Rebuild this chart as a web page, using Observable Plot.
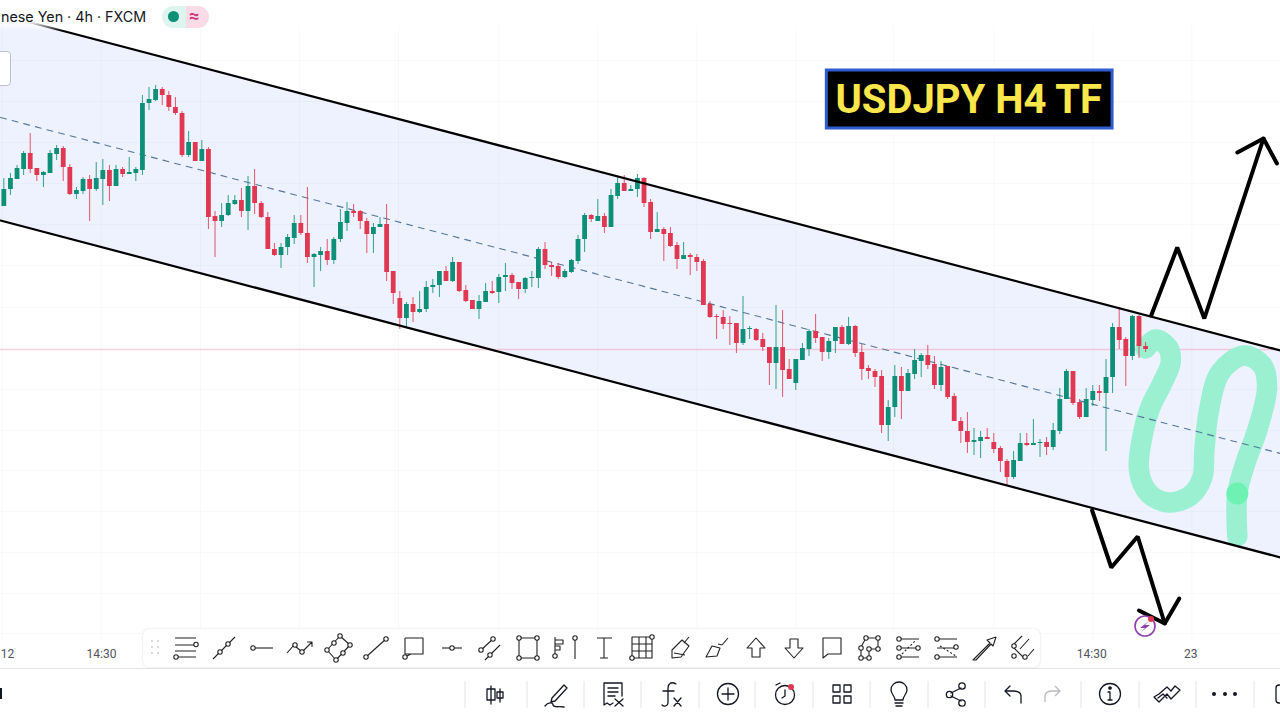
<!DOCTYPE html>
<html>
<head>
<meta charset="utf-8">
<script src="https://cdn.jsdelivr.net/npm/d3@7"></script>
<script src="https://cdn.jsdelivr.net/npm/@observablehq/plot@0.6"></script>
<style>
html,body{margin:0;padding:0;background:#fff;overflow:hidden}
#page{position:relative;width:1280px;height:720px;overflow:hidden;font-family:Roboto,"Liberation Sans",sans-serif}
#chart svg{display:block}
.ov{position:absolute}
</style>
</head>
<body>
<div id="page"><div id="chart"></div></div>
<script>
// USD/JPY 4h candles, one value per bar (prices)
const opens = [150.94,151.11,151.21,151.31,151.47,151.32,151.25,151.27,151.46,151.52,
151.33,151.06,151.09,151.21,151.11,151.21,151.30,151.14,151.31,151.26,
151.27,151.30,151.97,152.00,152.11,152.05,151.93,151.87,151.45,151.58,
151.39,151.51,150.84,150.79,150.85,150.96,151.00,150.89,151.14,150.97,
150.83,150.51,150.45,150.53,150.62,150.77,150.67,150.43,150.45,150.49,
150.40,150.61,150.77,150.89,150.89,150.79,150.66,150.73,150.76,150.29,
150.02,149.82,149.96,149.88,149.91,150.13,150.15,150.29,150.19,150.38,
150.10,150.00,149.91,149.98,150.09,150.08,150.23,150.25,150.18,150.11,
150.22,150.22,150.51,150.35,150.34,150.23,150.28,150.39,150.61,150.85,
150.79,150.84,150.73,151.04,151.17,151.09,151.11,151.22,150.98,150.68,
150.71,150.67,150.55,150.41,150.45,150.43,150.39,149.96,149.84,149.83,
149.77,149.77,149.57,149.71,149.71,149.61,149.53,149.37,149.53,149.31,
149.17,149.40,149.51,149.69,149.63,149.48,149.59,149.73,149.56,149.74,
149.48,149.32,149.29,149.24,148.75,148.93,149.24,149.09,149.26,149.39,
149.45,149.36,149.15,149.34,149.04,148.79,148.69,148.58,148.59,148.63,
148.58,148.52,148.39,148.23,148.39,148.57,148.55,148.57,148.58,148.53,
148.69,149.01,149.29,148.98,148.83,149.00,149.09,149.07,149.23,149.73,
149.61,149.44,149.84,149.54];
const closes = [151.11,151.22,151.32,151.47,151.31,151.25,151.28,151.47,151.52,151.33,
151.06,151.10,151.21,151.11,151.22,151.30,151.14,151.31,151.26,151.28,
151.31,151.97,152.01,152.11,152.05,151.93,151.87,151.45,151.58,151.39,
151.51,150.83,150.79,150.85,150.97,151.00,150.89,151.14,150.97,150.83,
150.51,150.45,150.53,150.63,150.77,150.67,150.43,150.46,150.49,150.40,
150.61,150.78,150.89,150.87,150.79,150.66,150.73,150.76,150.28,150.07,
149.82,149.96,149.88,149.91,150.13,150.15,150.29,150.19,150.38,150.09,
149.99,149.91,149.99,150.09,150.07,150.23,150.25,150.17,150.11,150.22,
150.23,150.51,150.35,150.33,150.23,150.29,150.40,150.61,150.85,150.81,
150.84,150.73,151.05,151.17,151.09,151.11,151.22,150.97,150.68,150.71,
150.66,150.54,150.41,150.45,150.43,150.38,149.95,149.83,149.83,149.76,
149.76,149.57,149.71,149.72,149.60,149.53,149.37,149.53,149.30,149.21,
149.41,149.52,149.69,149.62,149.48,149.59,149.73,149.56,149.74,149.47,
149.31,149.29,149.23,148.75,148.93,149.24,149.09,149.27,149.40,149.45,
149.35,149.15,149.33,149.03,148.79,148.69,148.58,148.60,148.63,148.61,
148.51,148.39,148.23,148.40,148.57,148.55,148.57,148.58,148.53,148.70,
149.01,149.29,148.97,148.83,149.01,149.09,149.07,149.23,149.73,149.60,
149.44,149.84,149.54,149.51];
const highs = [151.22,151.27,151.35,151.49,151.67,151.32,151.29,151.50,151.55,151.54,
151.36,151.13,151.23,151.25,151.38,151.41,151.35,151.35,151.33,151.43,
151.33,152.05,152.13,152.15,152.13,152.09,152.03,151.89,151.69,151.58,
151.60,151.53,150.89,150.97,151.05,151.05,151.12,151.24,151.31,150.99,
150.88,150.57,150.57,150.66,150.85,150.85,151.13,150.47,150.53,150.61,
150.63,150.91,150.98,150.96,150.90,150.82,150.77,150.83,150.96,150.29,
150.09,149.98,150.03,150.09,150.19,150.21,150.29,150.34,150.43,150.38,
150.15,150.00,150.05,150.17,150.19,150.26,150.37,150.27,150.18,150.23,
150.29,150.53,150.58,150.38,150.37,150.31,150.41,150.65,150.87,150.86,
151.01,150.87,151.11,151.23,151.25,151.15,151.26,151.23,151.01,150.88,
150.73,150.73,150.58,150.58,150.47,150.46,150.41,149.99,149.86,149.90,
149.84,149.77,150.04,149.74,149.72,149.67,149.53,149.95,149.90,149.41,
149.41,149.57,149.71,149.86,149.63,149.62,149.73,149.75,149.83,149.75,
149.56,149.35,149.31,149.30,149.00,149.35,149.33,149.31,149.51,149.47,
149.55,149.44,149.39,149.34,149.07,148.83,148.88,148.72,148.69,148.72,
148.67,148.54,148.41,148.49,148.67,148.67,148.81,148.61,148.63,148.77,
149.12,149.31,149.29,149.01,149.12,149.15,149.15,149.41,149.77,149.91,
149.63,149.85,149.85,149.58];
const lows = [150.94,151.05,151.21,151.25,151.27,151.19,151.13,151.27,151.40,151.19,
151.05,151.01,151.06,150.79,151.09,150.95,150.99,151.14,151.23,151.26,
151.19,151.25,151.90,151.99,151.95,151.89,151.85,151.43,151.43,151.39,
151.39,150.71,150.43,150.73,150.84,150.95,150.83,150.70,150.86,150.82,
150.51,150.44,150.32,150.45,150.56,150.65,150.37,150.13,150.29,150.35,
150.36,150.58,150.69,150.83,150.71,150.47,150.47,150.73,150.19,149.96,
149.71,149.74,149.78,149.87,149.88,150.07,150.03,150.19,150.18,150.08,
149.98,149.91,149.81,149.98,150.06,149.97,150.09,150.11,150.01,150.07,
150.13,150.12,150.31,150.24,150.21,150.22,150.27,150.36,150.48,150.78,
150.79,150.67,150.73,151.01,151.09,151.09,151.03,150.93,150.61,150.68,
150.39,150.53,150.31,150.41,150.25,150.29,149.95,149.82,149.61,149.71,
149.55,149.47,149.55,149.61,149.59,149.49,149.15,149.11,149.03,149.21,
149.10,149.40,149.44,149.57,149.39,149.41,149.47,149.56,149.55,149.43,
149.20,149.21,149.13,148.67,148.59,148.83,148.81,149.09,149.21,149.23,
149.31,149.11,149.09,149.01,148.79,148.57,148.47,148.45,148.42,148.61,
148.47,148.28,148.14,148.21,148.39,148.54,148.55,148.43,148.45,148.50,
148.66,149.01,148.95,148.81,148.83,148.94,148.99,148.49,149.07,149.51,
149.14,149.40,149.42,149.48];

// Regression channel: bar numbers and prices at its two ends
const channelBars = [-0.505, 193.44];
const channelUpper = [152.86, 149.50];
const channelMiddle = [151.83, 148.47];
const channelLower = [150.80, 147.43];

// Grid and time axis
const gridPrices = [152.81,152.40,151.99,151.58,151.17,150.76,150.35,149.93,149.11,148.70,148.30,147.89,147.48,147.07,146.67];
const gridBars = [-0.25,14.78,29.8,44.8,59.8,75,90,105,120,134.8,150,165,180];
const tickBars = [0.55,14.8,164.85,179.85];
const tickLabels = ["12","14:30","14:30","23"];
const axisLabelPrice = 146.46;
const lastPrice = 149.51;

// Hand-drawn scenario arrows (bar, price)
const upBars = [173.85,177.8,181.9,190.86];
const upPrices = [149.85,150.53,149.82,151.62];
const upHeadBars = [186.9,190.86,192.9];
const upHeadPrices = [151.48,151.62,151.37];
const downBars = [164.9,167.8,171.8,175.9];
const downPrices = [147.90,147.33,147.64,146.77];
const downHeadBars = [172,175.9,178.1];
const downHeadPrices = [146.90,146.77,147.02];

// Hand-drawn mint squiggle (bar, price)
const squiggleBars = [173.0,174.5,176.4,176.8,175.5,173.7,172.7,172.0,173.5,176.5,179.8,181.6,181.9,182.6,184.3,187.9,190.7,191.4,189.9,188.1,186.9,186.9];
const squigglePrices = [149.52,149.61,149.53,149.38,149.17,148.93,148.70,148.30,148.07,147.98,148.05,148.23,148.50,148.90,149.28,149.45,149.35,149.13,148.70,148.37,148.07,147.64];
const dotBar = [186.9];
const dotPrice = [148.07];

// Title box
const boxBars = [124.7,168];
const boxPrices = [152.30,151.72];
const boxLabel = "USDJPY H4 TF";

const GREEN = "#0e8f78", RED = "#e03850";
const bars = opens.map((o,i)=>({i,open:o,close:closes[i],high:highs[i],low:lows[i]}));
const candleColor = d => d.close >= d.open ? GREEN : RED;
const zipXY = (xs,ys) => xs.map((x,k)=>({x,y:ys[k]}));
const channel = channelBars.map((b,k)=>({b,u:channelUpper[k],m:channelMiddle[k],l:channelLower[k]}));
const ticks = tickBars.map((b,k)=>({b,t:tickLabels[k]}));

const plot = Plot.plot({
  width:1280,height:720,margin:0,
  style:{background:"transparent",overflow:"hidden"},
  x:{axis:null,type:"linear",domain:[-0.505,193.44],range:[0,1280]},
  y:{axis:null,type:"linear",domain:[153,145.8],range:[0,720]},
  marks:[
    Plot.areaY(channel,{x:"b",y1:"u",y2:"l",fill:"#eef2fe"}),
    Plot.ruleY(gridPrices,{x1:-0.505,x2:193.44,stroke:"#5a6a80",strokeOpacity:0.045,strokeWidth:1}),
    Plot.ruleX(gridBars,{y1:153,y2:146.6,stroke:"#5a6a80",strokeOpacity:0.045,strokeWidth:1}),
    Plot.ruleY([lastPrice],{stroke:"#f0a6bc",strokeOpacity:0.55,strokeWidth:1.4}),
    Plot.line(zipXY(squiggleBars,squigglePrices),{x:"x",y:"y",curve:"catmull-rom",stroke:"#9af0d0",strokeWidth:20.5,strokeLinecap:"round",strokeLinejoin:"round"}),
    Plot.dot(zipXY(dotBar,dotPrice),{x:"x",y:"y",r:11,fill:"#6ef2b4"}),
    Plot.line(channel,{x:"b",y:"m",stroke:"#54769a",strokeWidth:1.1,strokeDasharray:"6 6"}),
    Plot.ruleX(bars,{x:"i",y1:"low",y2:"high",stroke:candleColor,strokeWidth:1,strokeOpacity:0.85}),
    Plot.ruleX(bars,{x:"i",y1:"open",y2:"close",stroke:candleColor,strokeWidth:4.8}),
    Plot.line(channel,{x:"b",y:"u",stroke:"#000",strokeWidth:2.2}),
    Plot.line(channel,{x:"b",y:"l",stroke:"#000",strokeWidth:2.2}),
    Plot.line(zipXY(upBars,upPrices),{x:"x",y:"y",stroke:"#000",strokeWidth:4,strokeLinejoin:"miter"}),
    Plot.line(zipXY(upHeadBars,upHeadPrices),{x:"x",y:"y",stroke:"#000",strokeWidth:4,strokeLinejoin:"miter"}),
    Plot.line(zipXY(downBars,downPrices),{x:"x",y:"y",stroke:"#000",strokeWidth:4,strokeLinejoin:"miter"}),
    Plot.line(zipXY(downHeadBars,downHeadPrices),{x:"x",y:"y",stroke:"#000",strokeWidth:4,strokeLinejoin:"miter"}),
    Plot.rect([0],{x1:boxBars[0],x2:boxBars[1],y1:boxPrices[0],y2:boxPrices[1],fill:"#000",stroke:"#2f5ccf",strokeWidth:3}),
    Plot.text([boxLabel],{x:(boxBars[0]+boxBars[1])/2,y:(boxPrices[0]+boxPrices[1])/2,dy:1,dx:-1,text:d=>d,fill:"#fbe64c",fontSize:40,fontWeight:700,fontFamily:"Roboto",lineAnchor:"middle",textAnchor:"middle"}),
    Plot.text(ticks,{x:"b",y:axisLabelPrice,text:"t",fill:"#50535e",fontSize:12,fontFamily:"Roboto",lineAnchor:"middle"})
  ]
});
document.getElementById("chart").append(plot);

// Surrounding trading-app interface (not data)
const page = document.getElementById("page");
const add = (css,html="") => {const d=document.createElement("div");d.className="ov";d.style.cssText=css;d.innerHTML=html;page.append(d);return d;};
add("left:0;top:0;width:1280px;height:31px;background:linear-gradient(#fff 70%,rgba(255,255,255,0))");
add("left:1px;top:7px;font-size:14.3px;color:#131722;line-height:20px;white-space:nowrap;font-family:Inter,Roboto,sans-serif;font-weight:400","nese Yen · 4h · FXCM");
add("left:162px;top:6px;width:24px;height:22px;background:#def4ee;border-radius:11px 0 0 11px");
add("left:186px;top:6px;width:23px;height:22px;background:#fbdce6;border-radius:0 11px 11px 0");
add("left:168px;top:11px;width:11px;height:11px;background:#0e8f78;border-radius:50%");
add("left:189px;top:5px;font-size:18px;font-weight:700;color:#d0307f;line-height:22px","≈");
add("left:-10px;top:51px;width:19px;height:33px;background:#fff;border:1px solid #bcc0c8;border-radius:4px");
add("left:0;top:668px;width:1280px;height:52px;background:#fff;border-top:1px solid #e2e2e2;box-sizing:border-box");
add("left:143px;top:629px;width:897px;height:38px;background:#fff;border-radius:6px;box-shadow:0 0 2px rgba(0,0,0,.18)");

const c=(x,y,r=2.2)=>`<circle cx="${x}" cy="${y}" r="${r}" fill="#fff"/>`;
const p=(d)=>`<path d="${d}"/>`;
const tool=[
 p("M-11-10H10M-11-3H8M-11 3H10M-8 9H10")+c(10,-3.5)+c(-10,9),
 p("M-11 11L11-11")+c(-4,4)+c(4,-4),
 p("M-8 0H11")+c(-9,0),
 p("M-13 5L-6-3L2 4L12-6M7-6H12V-1")+c(-5,-3)+c(2,4),
 p("M-11 2L2-12L12-3L-2 12Z")+c(-11,2)+c(2,-12)+c(12,-3)+c(-2,12)+c(-4,-5)+c(5,5),
 p("M-10 9L10-9")+c(-10,9)+c(10,-9),
 p("M-9-10H9V6H-9V-10M-9 9L-3 6")+c(-9,9),
 p("M-10 0H10")+c(0,0),
 p("M-11 4L4-10M-5 12L10-3")+c(-9,2)+c(3,-9)+c(0,7),
 p("M-9-10H9V10H-9Z")+c(-9,-10)+c(9,-10)+c(-9,10)+c(9,10),
 p("M-11-11V10M-11-8H-3V-4H-11M-11-2H-6V2H-11M9-9V11")+c(9,-10)+c(-11,8),
 p("M-7-10H8M0-10V10M-4 10H4"),
 p("M-10-11H10V10H-10ZM-10-4H10M-10 3H10M-3-11V10M4-11V10")+c(-10,10)+c(10,-11),
 p("M-8 2L2-8L9-2L1 9L-8 10ZM-6 5L5 7M4-5L9-11"),
 p("M-12 9L-6-2L2 0L-1 8ZM4-3L10-10M0-4L4-3"),
 p("M0-10L9 0H4V9H-4V0H-9Z"),
 p("M0 10L9 0H4V-9H-4V0H-9Z"),
 p("M-9-10H9V6H-4L-9 10Z"),
 p("M-9-1L-4-10H8V1H-1V10H-9Z")+c(-9,0)+c(-4,-10)+c(8,-10)+c(8,1)+c(-1,1)+c(-1,10)+c(-9,10),
 p("M-9-9H11M-9 0H8M-9 9H11")+`<path d="M-6 6L8-8" stroke-dasharray="2 2"/>`+c(-9,-9)+c(10,0)+c(-9,0)+c(-9,9),
 p("M-9-9H11M-9 0H11M-9 9H11")+`<path d="M-6-2L10 8" stroke-dasharray="2 2"/>`+c(-9,-9)+c(10,-1)+c(-9,9),
 p("M-11 12L-8 9L6-5L3-8L12-11L9-2L7-4L-8 12Z"),
 p("M-10-2L3 11M-8-4L0-12M-2 1L7-9M6 8L12 1")+c(-8,-2)+c(-8,8)+c(3,9),
];
const toolSvg = tool.map((s,k)=>`<g transform="translate(${186+38*k},648)">${s}</g>`).join("");
const dots=[0,1,2].flatMap(r=>[0,1].map(q=>`<circle cx="${152+q*6}" cy="${641+r*6}" r="1" fill="#c9cbd0"/>`)).join("");
const bottom=[
 [496,p("M-5-8V10M-5-5H-1V6H-5M-5-5H-9V6H-5M4-5V8M4-2H7V4H1V-2H4")],
 [556,p("M-4 4L8-9L11-6L-1 7L-5 8ZM-11 12C-8 8-3 8-3 11C-2 14 3 12 8 13")],
 [613,p("M-9-11H9V2M-9-11V11L-6 9L-3 11L0 9M2 5L10 12M10 5L2 12M-5-6H5M-5-2H5M-5 2H2")],
 [670,p("M6-10C1-13-2-10-2-6V9C-2 12-6 13-8 11M-7-3H4M4 4L11 12M11 4L4 12")],
 [728,`<circle r="10.5"/>`+p("M0-6V6M-6 0H6")],
 [785,`<circle cy="1" r="9.5"/>`+p("M0-4V2L-3 4M-9-9L-5-11")],
 [842,p("M-9-9H-2V-2H-9ZM2-9H9V-2H2ZM-9 2H-2V9H-9ZM2 2H9V9H2Z")],
 [899,p("M-4 6C-4 2-8 0-8-4C-8-9-4-12 0-12C4-12 8-9 8-4C8 0 4 2 4 6ZM-4 9H4M-3 12H3")],
 [956,p("M-5-1L5-6M-5 2L5 7")+`<circle cx="-6.5" cy="0.5" r="3.2"/><circle cx="6" cy="-8" r="3.2"/><circle cx="6" cy="9" r="3.2"/>`],
 [1013,p("M8 9V2C8-2 4-3 0-3H-8M-3-8L-8-3L-3 2")],
 [1110,`<circle r="10.5"/>`+p("M0-2V6M-2 6H2M-2-2H0")+`<circle cy="-6" r="1.2" fill="#131722"/>`],
 [1167,p("M-13 3L-8 8L0 0L4 5L13-4L8-8L4-3L0-7L-8 0ZM-9 4L-4 0L0 4")],
].map(([x,s])=>`<g transform="translate(${x},694)">${s}</g>`).join("");
const seps=[465,527,584,641,699,755,813,870,928,985,1081,1139,1196,1254].map(x=>`<path d="M${x} 681V708" stroke="#e4e4e6" fill="none" stroke-width="1"/>`).join("");
const overlay=document.createElementNS("http://www.w3.org/2000/svg","svg");
overlay.setAttribute("width",1280);overlay.setAttribute("height",720);
overlay.style.cssText="position:absolute;left:0;top:0";
overlay.innerHTML=`<g fill="none" stroke="#222" stroke-width="1.1" stroke-linejoin="round">${toolSvg}</g>${dots}
<g fill="none" stroke="#131722" stroke-width="1.3" stroke-linejoin="round" stroke-linecap="round">${bottom}</g>${seps}
<g transform="translate(1052,694)" fill="none" stroke="#b9bbc0" stroke-width="1.3"><path d="M-7 8V2C-7-2-3-3 1-3H8M3-8L8-3L3 2"/></g>
<circle cx="791" cy="687" r="3" fill="#e03850"/>
<g fill="#131722"><circle cx="1214" cy="694" r="2"/><circle cx="1225" cy="694" r="2"/><circle cx="1235" cy="694" r="2"/></g>
<rect x="1276" y="685" width="12" height="18" rx="3" fill="none" stroke="#131722" stroke-width="1.3"/>
<rect x="-4" y="688" width="6" height="11" fill="#131722"/>
<circle cx="1145" cy="626" r="10" fill="#fff" stroke="#8f3fae" stroke-width="1.6"/>
<path d="M1149 621L1140 628H1145L1141 632L1150 625H1145Z" fill="#8f3fae"/>
<circle cx="1151" cy="619" r="3" fill="#e03850"/>`;
page.append(overlay);
</script>
</body>
</html>
